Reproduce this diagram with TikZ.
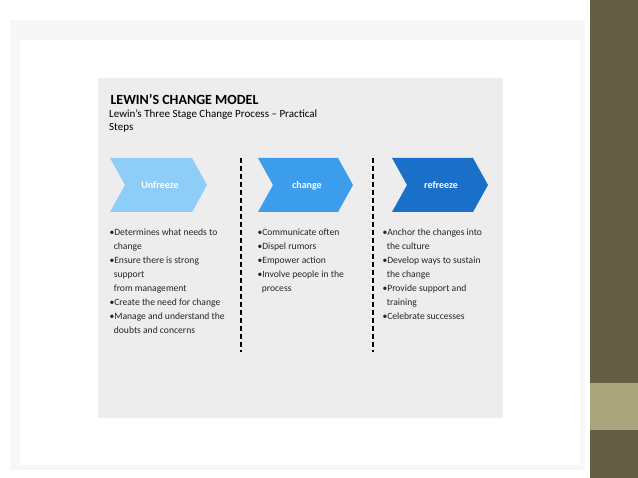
\documentclass[tikz,border=0pt]{standalone}
\usepackage{fontspec}
\setmainfont{Carlito}
\begin{document}
\begin{tikzpicture}[x=1pt,y=-1pt,
  chev/.style={draw=none},
  lbl/.style={text=white,font=\fontsize{10}{12}\selectfont\bfseries},
  bul/.style={anchor=north west,align=left,font=\fontsize{9.6}{14}\selectfont,text=black!85},
  sep/.style={dashed,line width=1.4pt,dash pattern=on 5pt off 3pt}]
\useasboundingbox (0,0) rectangle (638,478);
\fill[white] (0,0) rectangle (638,478);
\fill[black!3] (10,20) rectangle (585,470);
\fill[white] (20,40) rectangle (580,465);
\fill[black!7] (98,78) rectangle (503,418);
\fill[fill={rgb,255:red,101;green,94;blue,71}] (590,0) rectangle (638,478);
\fill[fill={rgb,255:red,168;green,165;blue,124}] (590,383) rectangle (638,430);
\node[anchor=west,font=\fontsize{14}{16}\selectfont\bfseries] (t) at (107,99) {LEWIN’S CHANGE MODEL};
\node[anchor=north west,align=left,font=\fontsize{11}{13}\selectfont,inner sep=0pt] (s) at (109,110) {Lewin’s Three Stage Change Process – Practical\\Steps};
\fill[fill={rgb,255:red,142;green,205;blue,248}] (110,158) -- (192,158) -- (207,185) -- (192,212) -- (110,212) -- (125,185) -- cycle;
\fill[fill={rgb,255:red,60;green,157;blue,237}] (258,158) -- (338,158) -- (353,185) -- (338,212) -- (258,212) -- (273,185) -- cycle;
\fill[fill={rgb,255:red,26;green,112;blue,200}] (392,158) -- (473,158) -- (488,185) -- (473,212) -- (392,212) -- (407,185) -- cycle;
\node[lbl] (u) at (160,185) {Unfreeze};
\node[lbl] (c) at (307,186) {change};
\node[lbl] (r) at (441,185) {refreeze};
\coordinate (d1a) at (241,158); \coordinate (d1b) at (241,352);
\coordinate (d2a) at (373,158); \coordinate (d2b) at (373,352);
\draw[sep] (d1a) -- (d1b);
\draw[sep] (d2a) -- (d2b);
\node[bul] (b1) at (106,225) {•Determines what needs to\\\ \ change\\•Ensure there is strong\\\ \ support\\\ \ from management\\•Create the need for change\\•Manage and understand the\\\ \ doubts and concerns};
\node[bul] (b2) at (254,225) {•Communicate often\\•Dispel rumors\\•Empower action\\•Involve people in the\\\ \ process};
\node[bul] (b3) at (379,225) {•Anchor the changes into\\\ \ the culture\\•Develop ways to sustain\\\ \ the change\\•Provide support and\\\ \ training\\•Celebrate successes};
\end{tikzpicture}
\end{document}
